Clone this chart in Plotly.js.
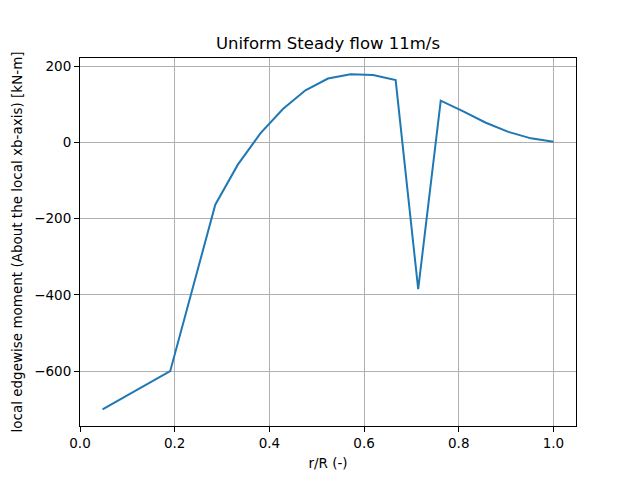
<!DOCTYPE html>
<html>
<head>
<meta charset="utf-8">
<script src="https://cdn.plot.ly/plotly-3.0.1.min.js"></script>
<style>html,body{margin:0;padding:0;background:#fff;}#chart{width:640px;height:480px;}</style>
</head>
<body>
<div id="chart"></div>
<script>
const rR = [1/21, 2/21, 3/21, 4/21, 5/21, 6/21, 7/21, 8/21, 9/21, 10/21, 11/21,
            12/21, 13/21, 14/21, 15/21, 16/21, 17/21, 18/21, 19/21, 20/21, 21/21];
const moment = [-700, -666, -633, -600, -382, -163, -58, 24, 88, 137, 168,
                179, 177, 164, -385, 110, 82, 52, 28, 11, 2];
const xTicks = [0.0, 0.2, 0.4, 0.6, 0.8, 1.0];
const yTicks = [-600, -400, -200, 0, 200];

const font = {family: 'DejaVu Sans, sans-serif', size: 13.5, color: '#000'};

Plotly.newPlot('chart', [{
  x: rR, y: moment, type: 'scatter', mode: 'lines',
  line: {color: '#1f77b4', width: 2}
}], {
  width: 640, height: 480,
  margin: {l: 80, r: 64, t: 58, b: 54},
  paper_bgcolor: '#fff', plot_bgcolor: '#fff',
  font: font,
  showlegend: false,
  title: {text: 'Uniform Steady flow 11m/s', font: {family: font.family, size: 16.5, color: '#000'},
          xref: 'paper', x: 0.5, xanchor: 'center', y: 1 - 43/480, yanchor: 'middle'},
  xaxis: {
    range: [0, 1.0476], tickvals: xTicks, tickformat: '.1f',
    showgrid: true, gridcolor: '#b0b0b0', gridwidth: 1,
    zeroline: false, showline: true, linecolor: '#000', linewidth: 1, mirror: true,
    ticks: 'outside', ticklen: 5, tickcolor: '#000',
    title: {text: 'r/R (-)', font: font, standoff: 8}
  },
  yaxis: {
    range: [-743.9, 221.9], tickvals: yTicks,
    showgrid: true, gridcolor: '#b0b0b0', gridwidth: 1,
    zeroline: false, showline: true, linecolor: '#000', linewidth: 1, mirror: true,
    ticks: 'outside', ticklen: 5, tickcolor: '#000',
    title: {text: 'local edgewise moment (About the local xb-axis) [kN-m]', font: font, standoff: 8}
  }
}, {displayModeBar: false, staticPlot: true});
</script>
</body>
</html>
